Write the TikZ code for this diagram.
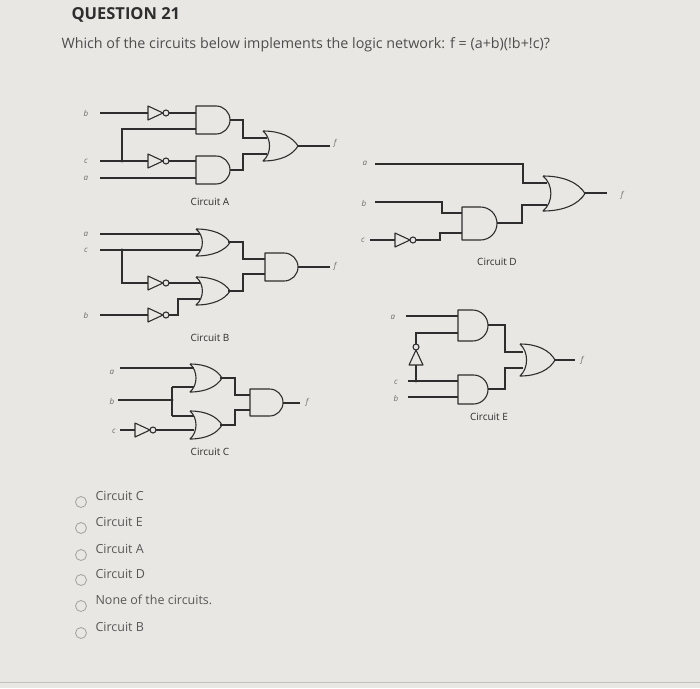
\documentclass[tikz,border=0pt]{standalone}
\usepackage{fontspec}
\setmainfont{Open Sans}
\definecolor{bg}{HTML}{E9E7E3}
\definecolor{ink}{HTML}{2E2E2E}
\newcommand\andg[4]{% x0,x1,ytop,ybot
 \pgfmathsetmacro\rr{(#4-#3)/2}\pgfmathsetmacro\xm{#2-\rr}\pgfmathsetmacro\ym{(#3+#4)/2}
 \pgfmathsetmacro\kk{0.552*\rr}
 \draw[gate] (#1,#3) -- (\xm,#3) .. controls (\xm+\kk,#3) and (#2,\ym-\kk) .. (#2,\ym)
   .. controls (#2,\ym+\kk) and (\xm+\kk,#4) .. (\xm,#4) -- (#1,#4) -- cycle;}
\newcommand\org[4]{%
 \pgfmathsetmacro\ww{#2-#1}\pgfmathsetmacro\hh{#4-#3}\pgfmathsetmacro\ym{(#3+#4)/2}
 \draw[gate] (#1,#3) .. controls (#1+0.5*\ww,#3) and (#1+0.85*\ww,\ym-0.3*\hh) .. (#2,\ym)
   .. controls (#1+0.85*\ww,\ym+0.3*\hh) and (#1+0.5*\ww,#4) .. (#1,#4)
   .. controls (#1+0.25*\ww,\ym+0.25*\hh) and (#1+0.25*\ww,\ym-0.25*\hh) .. (#1,#3);}
\newcommand\notg[2]{% x0, y
 \draw[gate] (#1,#2-7) -- (#1+15,#2) -- (#1,#2+7) -- cycle;
 \draw[gate] (#1+18,#2) circle[radius=3pt];}
\begin{document}
\begin{tikzpicture}[x=1pt,y=-1pt,
  gate/.style={draw=ink,line width=1.1pt,line join=round},
  w/.style={draw=ink,line width=1.1pt},
  lab/.style={font=\fontsize{8}{9}\selectfont\itshape,text=ink!70},
  captxt/.style={font=\fontsize{10}{12}\selectfont,text=ink},
  opt/.style={font=\fontsize{12.5}{14}\selectfont,text=ink!80,anchor=west},
  rad/.style={draw=ink!45,line width=0.8pt}]
\fill[bg] (0,0) rectangle (700,688);
\useasboundingbox (0,0) rectangle (700,688);
\draw[ink!30,line width=1pt] (0,682) -- (700,682);
\node[anchor=west,font=\fontsize{16.5}{18}\selectfont\bfseries,text=ink] (title) at (68,15) {QUESTION 21};
\node[anchor=west,font=\fontsize{14.3}{16}\selectfont,text=ink!85] (q) at (58,45) {Which of the circuits below implements the logic network: f = (a+b)(!b+!c)?};
% ---- Circuit A
\node[lab] at (86,113) {b}; \node[lab] at (86,161) {c}; \node[lab] at (86,178) {a};
\draw[w] (100,113) -- (148,113); \notg{148}{113}; \draw[w] (169,113) -- (196,113);
\draw[w] (100,161) -- (148,161); \notg{148}{161}; \draw[w] (169,161) -- (196,161);
\draw[w] (122,161) -- (122,129) -- (196,129);
\fill[ink] (122,161) circle[radius=1.6pt];
\draw[w] (100,178) -- (196,178);
\andg{196}{230}{106}{134}; \andg{196}{230}{156}{184};
\draw[w] (230,120) -- (243,120) -- (243,138) -- (267,138);
\draw[w] (230,170) -- (243,170) -- (243,154) -- (267,154);
\org{263}{298}{131}{161};
\draw[w] (298,146) -- (330,146); \node[lab] at (335,143) {f};
\node[captxt] at (210,202) {Circuit A};
% ---- Circuit B
\node[lab] at (86,234) {a}; \node[lab] at (86,250) {c}; \node[lab] at (86,315) {b};
\draw[w] (100,234) -- (200,234); \draw[w] (100,250) -- (200,250);
\org{196}{230}{229}{256};
\draw[w] (122,250) -- (122,283) -- (148,283); \notg{148}{283}; \draw[w] (169,283) -- (200,283);
\fill[ink] (122,250) circle[radius=1.6pt];
\draw[w] (100,315) -- (148,315); \notg{148}{315}; \draw[w] (169,315) -- (178,315) -- (178,299) -- (200,299);
\org{196}{230}{277}{305};
\draw[w] (228,242) -- (243,242) -- (243,259) -- (265,259);
\draw[w] (228,291) -- (243,291) -- (243,274) -- (265,274);
\andg{265}{298}{253}{281};
\draw[w] (298,267) -- (330,267); \node[lab] at (335,266) {f};
\node[captxt] at (210,338) {Circuit B};
% ---- Circuit C
\node[lab] at (112,372) {a}; \node[lab] at (112,401) {b}; \node[lab] at (114,431) {c};
\draw[w] (120,368) -- (194,368); \draw[w] (118,400) -- (172,400);
\draw[w] (172,387) -- (172,416); \draw[w] (172,387) -- (194,387); \draw[w] (172,416) -- (194,416);
\fill[ink] (172,400) circle[radius=1.6pt];
\draw[w] (120,430) -- (135,430); \notg{135}{430}; \draw[w] (156,430) -- (194,430);
\org{190}{222}{364}{392}; \org{190}{222}{411}{439};
\draw[w] (220,378) -- (235,378) -- (235,395) -- (250,395);
\draw[w] (220,425) -- (235,425) -- (235,410) -- (250,410);
\andg{250}{283}{389}{416};
\draw[w] (283,403) -- (300,403); \node[lab] at (307,402) {f};
\node[captxt] at (210,452) {Circuit C};
% ---- Circuit D
\node[lab] at (365,163) {a}; \node[lab] at (364,203) {b}; \node[lab] at (363,240) {c};
\draw[w] (375,164) -- (523,164) -- (523,183) -- (547,183);
\draw[w] (375,202) -- (442,202) -- (442,213) -- (462,213);
\draw[w] (370,240) -- (395,240); \notg{395}{240}; \draw[w] (416,240) -- (440,240) -- (440,233) -- (462,233);
\andg{462}{497}{207}{240};
\draw[w] (497,223) -- (522,223) -- (522,205) -- (547,205);
\org{543}{585}{176}{211};
\draw[w] (585,193) -- (607,193); \node[lab] at (622,195) {f};
\node[captxt] at (497,262) {Circuit D};
% ---- Circuit E
\node[lab] at (393,317) {a}; \node[lab] at (396,382) {c}; \node[lab] at (396,398) {b};
\draw[w] (406,316) -- (458,316);
\draw[w] (408,381) -- (458,381); \draw[w] (408,397) -- (458,397);
\fill[ink] (416,381) circle[radius=1.6pt];
\draw[w] (416,381) -- (416,365);
\draw[gate] (409,365) -- (416,350) -- (423,365) -- cycle;
\draw[gate] (416,347) circle[radius=3pt];
\draw[w] (416,344) -- (416,333) -- (458,333);
\andg{458}{488}{310}{341}; \andg{458}{488}{375}{404};
\draw[w] (488,325) -- (505,325) -- (505,352) -- (523,352);
\draw[w] (488,389) -- (505,389) -- (505,368) -- (523,368);
\org{520}{555}{344}{376};
\draw[w] (555,360) -- (575,360); \node[lab] at (582,360) {f};
\node[captxt] at (489,417) {Circuit E};
% ---- options
\foreach \yy/\tt [count=\i] in {496/Circuit C,522/Circuit E,549/Circuit A,574/Circuit D,600/None of the circuits.,627/Circuit B}{
  \draw[rad] (81,\yy+6) circle[radius=5.5pt];
  \node[opt] (o\i) at (92,\yy) {\tt};}
\end{tikzpicture}
\end{document}
